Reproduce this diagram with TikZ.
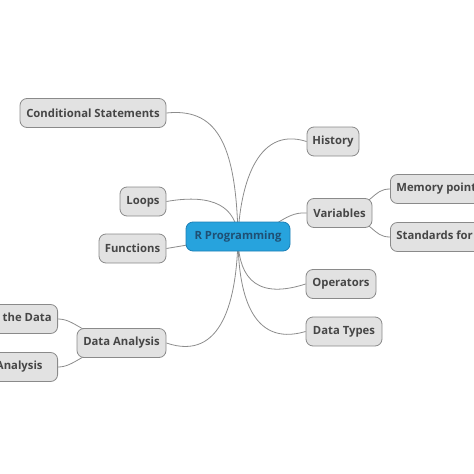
\documentclass[tikz,border=0pt]{standalone}
\usepackage{fontspec}
\setmainfont{Open Sans}
\usetikzlibrary{backgrounds}
\definecolor{boxfill}{HTML}{E2E2E2}
\definecolor{boxline}{HTML}{8A8A8A}
\definecolor{txt}{HTML}{464646}
\definecolor{rootfill}{HTML}{27A3DD}
\definecolor{rootline}{HTML}{1C7FB6}
\definecolor{roottxt}{HTML}{1F4F73}
\definecolor{edge}{HTML}{8C8C8C}
\tikzset{
  topic/.style={draw=boxline, fill=boxfill, rounded corners=7pt, line width=0.8pt,
    minimum height=29pt, inner xsep=5pt, text=txt, font=\fontsize{11.3}{13}\selectfont\bfseries},
  rootbox/.style={topic, draw=rootline, fill=rootfill, text=roottxt},
  link/.style={draw=edge, line width=0.8pt}
}
\begin{document}
\begin{tikzpicture}[x=1pt, y=-1pt]
\useasboundingbox (0,0) rectangle (474,474);
\clip (0,0) rectangle (474,474);
\node[rootbox, minimum width=104pt] (root) at (238,236.5) {R Programming};
\node[topic, minimum width=146pt] (cond) at (93,113) {Conditional Statements};
\node[topic, minimum width=46pt] (loops) at (143,201.5) {Loops};
\node[topic, minimum width=67pt] (func) at (132.5,248.5) {Functions};
\node[topic, minimum width=89pt] (dana) at (121.5,343) {Data Analysis};
\node[topic, anchor=east, inner xsep=6pt] (thedata) at (58,319) {Visualizing the Data};
\node[topic, anchor=east, inner xsep=15pt] (analysis) at (58,367) {Statistical Analysis};
\node[topic, minimum width=52pt] (history) at (333,141.5) {History};
\node[topic, minimum width=65pt] (vars) at (339.5,213) {Variables};
\node[topic, anchor=west, inner xsep=6pt] (memory) at (390,189) {Memory pointers};
\node[topic, anchor=west, inner xsep=6pt] (standards) at (390,237) {Standards for naming};
\node[topic, minimum width=70pt] (ops) at (341,284) {Operators};
\node[topic, minimum width=76pt] (dtypes) at (344,331.5) {Data Types};
\begin{scope}[on background layer]
\draw[link] (cond.east) .. controls (215,108) and (236,140) .. (root.center);
\draw[link] (loops.east) .. controls (215,193) and (236,208) .. (root.center);
\draw[link] (func.east) -- (root.center);
\draw[link] (dana.east) .. controls (222,362) and (237,300) .. (root.center);
\draw[link] (history.west) .. controls (255,125) and (240,190) .. (root.center);
\draw[link] (vars.west) .. controls (282,211) and (272,236) .. (root.center);
\draw[link] (ops.west) .. controls (250,302) and (238,270) .. (root.center);
\draw[link] (dtypes.west) .. controls (250,348) and (238,290) .. (root.center);
\draw[link] (vars.center) .. controls (375,205) and (372,189) .. (memory.west);
\draw[link] (vars.center) .. controls (375,221) and (372,237) .. (standards.west);
\draw[link] (dana.center) .. controls (82,335) and (75,319) .. (thedata.east);
\draw[link] (dana.center) .. controls (82,351) and (75,367) .. (analysis.east);
\end{scope}
\end{tikzpicture}
\end{document}
